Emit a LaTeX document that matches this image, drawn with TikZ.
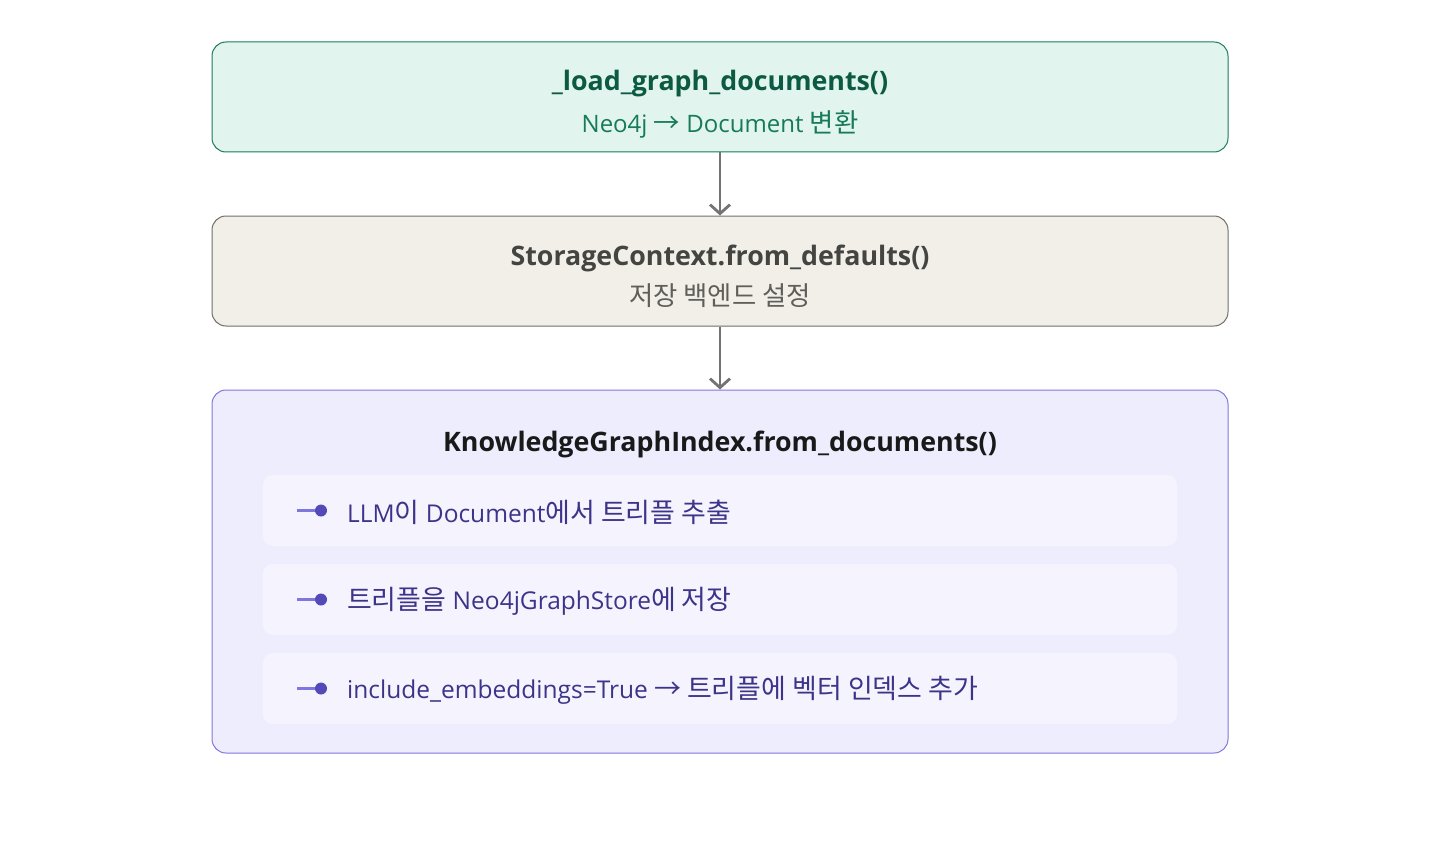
\documentclass[tikz,border=0pt]{standalone}
\usepackage{fontspec}
\setmainfont{Open Sans}
\newfontfamily\kr{Noto Sans CJK KR}[Scale=1.1]
\usetikzlibrary{arrows.meta}
\definecolor{gfill}{HTML}{E1F5EE}
\definecolor{gline}{HTML}{1D7A5C}
\definecolor{gtitle}{HTML}{0B5A41}
\definecolor{gsub}{HTML}{177A58}
\definecolor{bfill}{HTML}{F1EFE8}
\definecolor{bline}{HTML}{6F6E68}
\definecolor{btitle}{HTML}{444441}
\definecolor{bsub}{HTML}{5F5E5A}
\definecolor{pfill}{HTML}{EEEDFE}
\definecolor{pline}{HTML}{7F77DD}
\definecolor{prow}{HTML}{F5F4FE}
\definecolor{ptext}{HTML}{3C3489}
\definecolor{pdot}{HTML}{534AB7}
\definecolor{arrcol}{HTML}{737373}
\tikzset{
  box/.style={draw, line width=1pt, rounded corners=14pt, minimum width=1016pt, inner sep=0pt},
  rowbox/.style={fill=prow, rounded corners=10pt, minimum width=914pt, minimum height=71pt, inner sep=0pt},
  ttl/.style={font=\fontsize{26.8}{30}\selectfont\bfseries, inner sep=0pt},
  sub/.style={font=\fontsize{24}{28}\selectfont, inner sep=0pt},
  rowtxt/.style={font=\fontsize{24.5}{28}\selectfont, text=ptext, inner sep=0pt, anchor=west},
  arr/.style={draw=arrcol, line width=2.8pt, -{Straight Barb[length=9pt,width=20pt,line width=2.8pt]}},
}
\begin{document}
\begin{tikzpicture}[x=1pt,y=-1pt]
\useasboundingbox (0,0) rectangle (1440,848);
% boxes
\node[box, fill=gfill, draw=gline, minimum height=110pt] (b1) at (720,97) {};
\node[box, fill=bfill, draw=bline, minimum height=110pt] (b2) at (720,271) {};
\node[box, fill=pfill, draw=pline, minimum height=363pt] (b3) at (720,571.5) {};
% texts
\node[ttl, text=gtitle] (t1) at (720,84) {\_load\_graph\_documents()};
\node[sub, text=gsub] (s1) at (720,124.5) {Neo4j {\kr →} Document {\kr 변환}};
\node[ttl, text=btitle] (t2) at (720,258) {StorageContext.from\_defaults()};
\node[sub, text=bsub] (s2) at (720,296) {\kr 저장 백엔드 설정};
\node[ttl, text=black!90] (t3) at (720,444) {KnowledgeGraphIndex.from\_documents()};
% rows
\node[rowbox] (r1) at (720,510.5) {};
\node[rowbox] (r2) at (720,599.5) {};
\node[rowbox] (r3) at (720,688.5) {};
\foreach \r in {r1,r2,r3}{
  \coordinate (\r a) at ([xshift=-423pt]\r.center);
  \coordinate (\r b) at ([xshift=-399pt]\r.center);
  \draw[pline, line width=3pt] (\r a) -- (\r b);
  \fill[pdot] (\r b) circle (6pt);
}
\node[rowtxt] (x1) at ([xshift=-373pt,yshift=-1.5pt]r1.center) {LLM{\kr 이} Document{\kr 에서 트리플 추출}};
\node[rowtxt] (x2) at ([xshift=-373pt,yshift=-1.5pt]r2.center) {{\kr 트리플을} Neo4jGraphStore{\kr 에 저장}};
\node[rowtxt] (x3) at ([xshift=-373pt,yshift=-1.5pt]r3.center) {include\_embeddings=True {\kr → 트리플에 벡터 인덱스 추가}};
% connectors
\draw[arr] (b1.south) -- (b2.north);
\draw[arr] (b2.south) -- (b3.north);
\end{tikzpicture}
\end{document}
